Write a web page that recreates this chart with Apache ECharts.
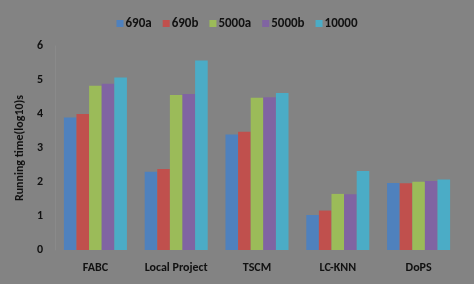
<!DOCTYPE html>
<html>
<head>
<meta charset="utf-8">
<script src="https://cdn.jsdelivr.net/npm/echarts@6/dist/echarts.min.js"></script>
<style>
  html, body { margin: 0; padding: 0; background: #838383; }
  #chart { width: 474px; height: 284px; }
</style>
</head>
<body>
<div id="chart"></div>
<script>
// categories and series
var categories = ['FABC', 'Local Project', 'TSCM', 'LC-KNN', 'DoPS'];
var s690a  = [3.90, 2.30, 3.40, 1.03, 1.97];
var s690b  = [4.00, 2.38, 3.48, 1.16, 1.96];
var s5000a = [4.83, 4.56, 4.48, 1.65, 2.01];
var s5000b = [4.89, 4.59, 4.49, 1.64, 2.03];
var s10000 = [5.07, 5.57, 4.62, 2.32, 2.07];
var seriesNames = ['690a', '690b', '5000a', '5000b', '10000'];
var colors = ['#4F81BD', '#C0504D', '#9BBB59', '#8064A2', '#4BACC6'];

var myChart = echarts.init(document.getElementById('chart'));

var font = 'Calibri, Carlito, "Open Sans", "DejaVu Sans", sans-serif';
var allData = [s690a, s690b, s5000a, s5000b, s10000];

var option = {
  backgroundColor: '#838383',
  animation: false,
  color: colors,
  legend: {
    top: 12,
    left: 'center',
    itemWidth: 7,
    itemHeight: 7,
    itemGap: 11,
    icon: 'rect',
    textStyle: { color: '#111', fontWeight: 'bold', fontSize: 13, fontFamily: font, padding: [0, 0, 0, -3] },
    data: seriesNames
  },
  grid: { left: 55, right: 15, top: 46, bottom: 34 },
  xAxis: {
    type: 'category',
    data: categories,
    axisLine: { show: false },
    axisTick: { show: false },
    axisLabel: {
      interval: 0,
      hideOverlap: false,
      color: '#111', fontWeight: 'bold', fontSize: 12, fontFamily: font, margin: 12
    }
  },
  yAxis: {
    type: 'value',
    min: 0,
    max: 6,
    interval: 1,
    name: 'Running time(log10)s',
    nameLocation: 'middle',
    nameGap: 16,
    nameTextStyle: { color: '#111', fontWeight: 'bold', fontSize: 12, fontFamily: font },
    axisLine: { show: true, lineStyle: { color: '#8a8a8a' } },
    splitLine: { show: false },
    axisLabel: { color: '#111', fontWeight: 'bold', fontSize: 12, fontFamily: font, margin: 12 }
  },
  series: seriesNames.map(function (name, i) {
    return {
      name: name,
      type: 'bar',
      barGap: '0%',
      barCategoryGap: '22%',
      data: allData[i]
    };
  })
};

myChart.setOption(option);
</script>
</body>
</html>
